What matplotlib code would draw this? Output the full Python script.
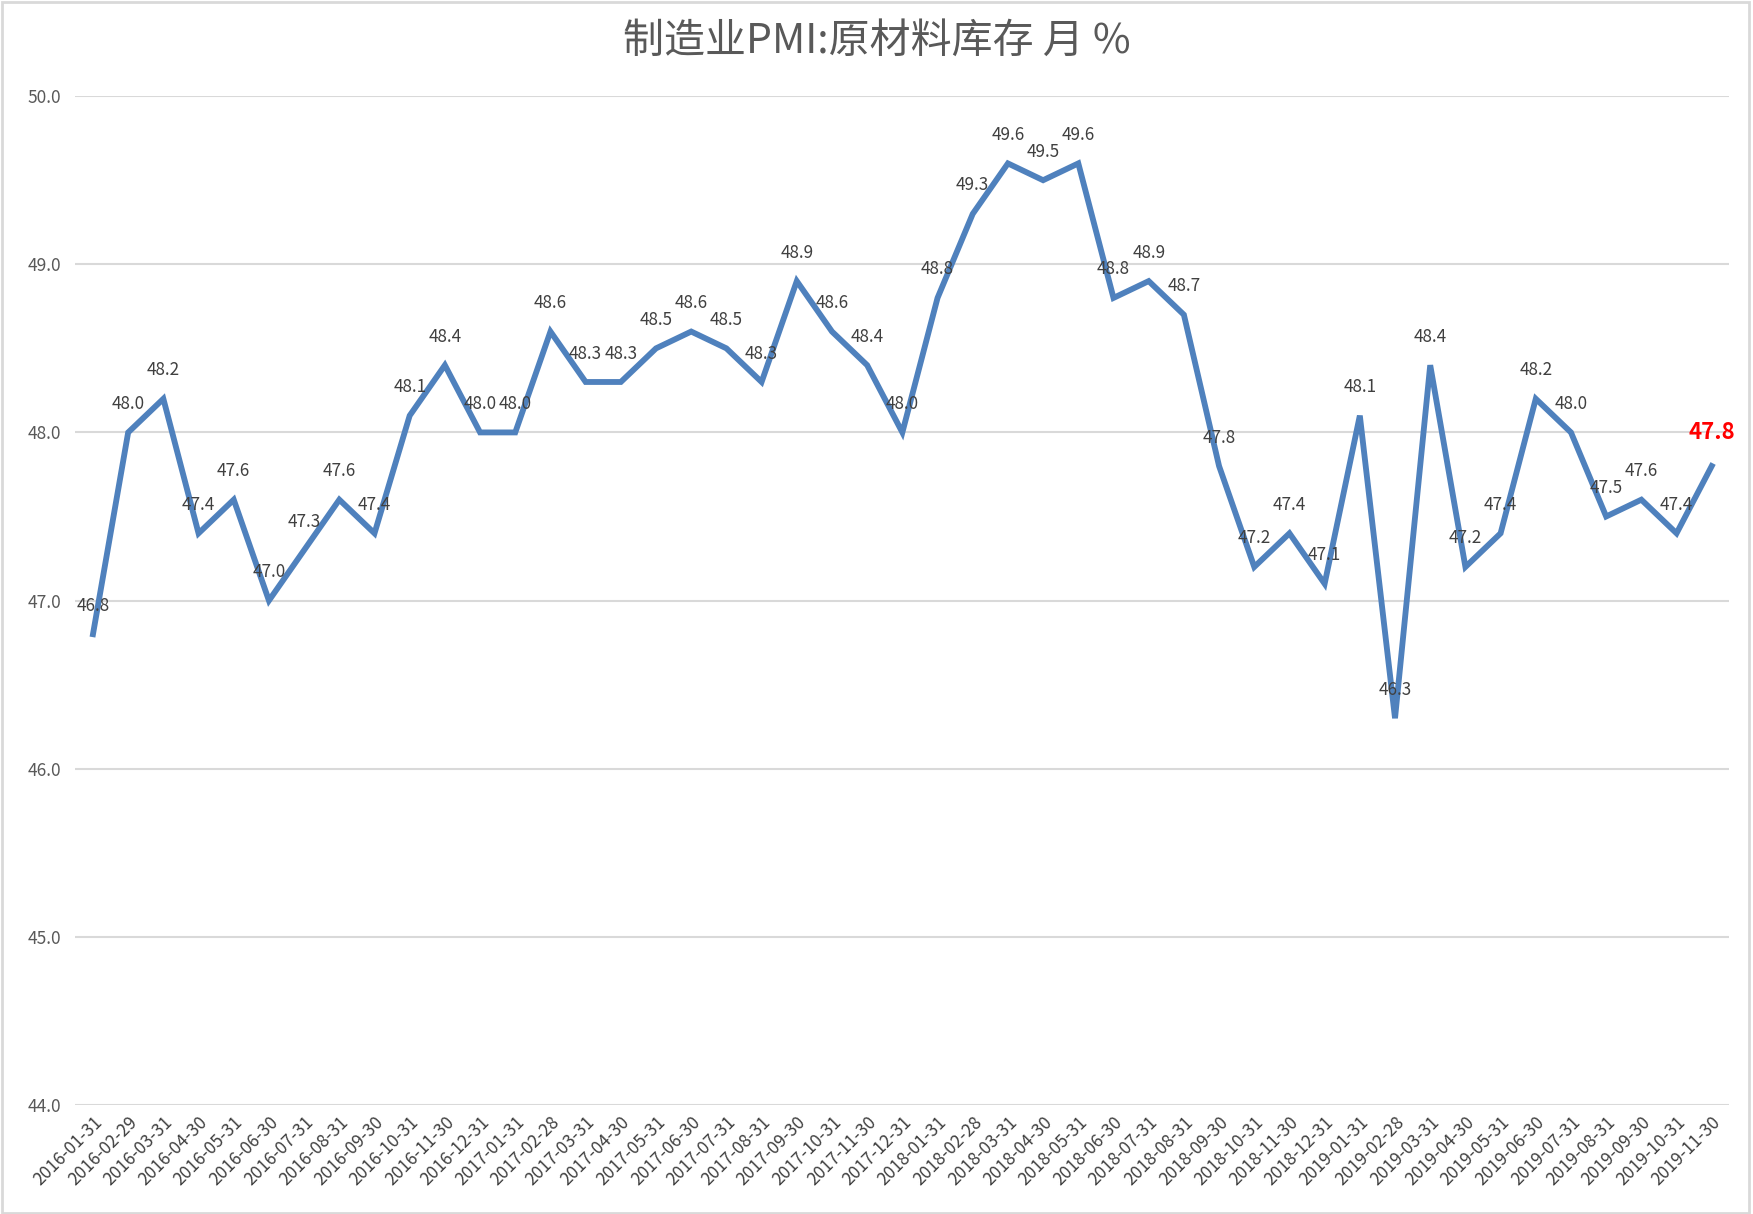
import matplotlib
matplotlib.use('Agg')
import matplotlib.pyplot as plt
from matplotlib.patches import Rectangle

plt.rcParams['font.family'] = ['Noto Sans CJK SC', 'DejaVu Sans']

dates = ['2016-01-31', '2016-02-29', '2016-03-31', '2016-04-30', '2016-05-31', '2016-06-30',
         '2016-07-31', '2016-08-31', '2016-09-30', '2016-10-31', '2016-11-30', '2016-12-31',
         '2017-01-31', '2017-02-28', '2017-03-31', '2017-04-30', '2017-05-31', '2017-06-30',
         '2017-07-31', '2017-08-31', '2017-09-30', '2017-10-31', '2017-11-30', '2017-12-31',
         '2018-01-31', '2018-02-28', '2018-03-31', '2018-04-30', '2018-05-31', '2018-06-30',
         '2018-07-31', '2018-08-31', '2018-09-30', '2018-10-31', '2018-11-30', '2018-12-31',
         '2019-01-31', '2019-02-28', '2019-03-31', '2019-04-30', '2019-05-31', '2019-06-30',
         '2019-07-31', '2019-08-31', '2019-09-30', '2019-10-31', '2019-11-30']
values = [46.8, 48.0, 48.2, 47.4, 47.6, 47.0, 47.3, 47.6, 47.4, 48.1, 48.4, 48.0,
          48.0, 48.6, 48.3, 48.3, 48.5, 48.6, 48.5, 48.3, 48.9, 48.6, 48.4, 48.0,
          48.8, 49.3, 49.6, 49.5, 49.6, 48.8, 48.9, 48.7, 47.8, 47.2, 47.4, 47.1,
          48.1, 46.3, 48.4, 47.2, 47.4, 48.2, 48.0, 47.5, 47.6, 47.4, 47.8]
y_ticks = [44.0, 45.0, 46.0, 47.0, 48.0, 49.0, 50.0]

fig = plt.figure(figsize=(17.53, 12.14), dpi=100)
ax = fig.add_axes([0.043, 0.0898, 0.9435, 0.831])

x = list(range(len(values)))
ax.plot(x, values, color='#4F81BD', linewidth=4.2, solid_joinstyle='miter', zorder=3)

# data labels above points, last one highlighted
for i, v in enumerate(values):
    if i == len(values) - 1:
        ax.annotate(f'{v:.1f}', (i, v), xytext=(0, 16), textcoords='offset points',
                    ha='center', va='bottom', fontsize=16, color='#FF0000', fontweight='bold')
    else:
        ax.annotate(f'{v:.1f}', (i, v), xytext=(0, 14), textcoords='offset points',
                    ha='center', va='bottom', fontsize=12.3, color='#404040')

ax.set_xlim(-0.5, len(values) - 0.5)
ax.set_ylim(44.0, 50.0)
ax.set_yticks(y_ticks)
ax.set_yticklabels([f'{t:.1f}' for t in y_ticks], fontsize=12.5, color='#595959')
ax.set_xticks(x)
ax.set_xticklabels(dates, rotation=45, ha='right', rotation_mode='anchor',
                   fontsize=12.5, color='#404040')
ax.tick_params(axis='both', length=0, pad=10)
ax.tick_params(axis='x', pad=6)
ax.grid(axis='y', color='#D9D9D9', linewidth=1.5)
ax.set_axisbelow(True)
for s in ax.spines.values():
    s.set_visible(False)

fig.text(0.5, 0.966, '制造业PMI:原材料库存 月 %', ha='center', va='center',
         fontsize=29.5, color='#595959')

# outer chart border
fig.patches.append(Rectangle((0.001, 0.001), 0.997, 0.997, transform=fig.transFigure,
                             fill=False, edgecolor='#D9D9D9', linewidth=2))

fig.savefig('out.png', dpi=100)
